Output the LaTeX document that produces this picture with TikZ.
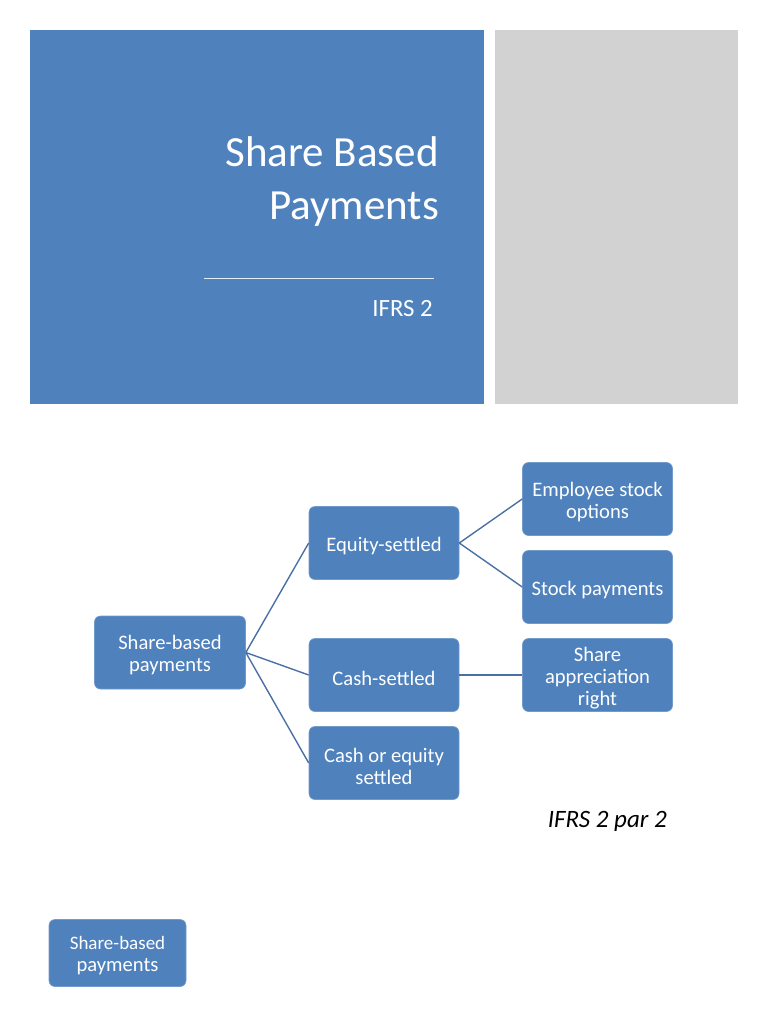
\documentclass[tikz,border=0pt]{standalone}
\usepackage{fontspec}
\setmainfont{Carlito}
\definecolor{sbblue}{HTML}{4F81BD}
\definecolor{sbgray}{HTML}{D2D2D2}
\definecolor{sbline}{HTML}{4A70A6}
\begin{document}
\begin{tikzpicture}[x=1pt,y=-1pt,
  sbtext/.style={text=white,align=center,font=\fontsize{20.6}{22}\selectfont,inner sep=0pt,yshift=-3pt},
  sbbox/.style={fill=sbblue,draw=sbblue!80!white,line width=0.6pt,rounded corners=6pt,minimum width=150pt,minimum height=73pt,
    inner sep=0pt,label={[sbtext]center:#1}},
  sblink/.style={draw=sbline,line width=1.4pt}]
\useasboundingbox (0,0) rectangle (768,1024);
% header panels
\fill[sbblue] (30,30) rectangle (484,404);
\fill[sbgray] (495,30) rectangle (738,404);
\node[anchor=east,align=right,text=white,inner sep=0pt,font=\fontsize{43}{53}\selectfont] (title) at (439,182) {Share Based\\Payments};
\coordinate (rulestart) at (204,278);
\coordinate (ruleend) at (434,278);
\draw[white!85!sbblue,line width=1pt] (rulestart) -- (ruleend);
\node[anchor=east,text=white,inner sep=0pt,font=\fontsize{24.8}{28}\selectfont] (sub) at (433,309) {IFRS 2};
% diagram
\node[sbbox={Share-based\\payments},minimum width=151pt] (root) at (170,652.5) {};
\node[sbbox={Equity-settled}] (eq) at (384,543) {};
\node[sbbox={Cash-settled}] (cash) at (384,675) {};
\node[sbbox={Cash or equity\\settled}] (either) at (384,763) {};
\node[sbbox={Employee stock\\options}] (eso) at (597.5,499) {};
\node[sbbox={Stock payments}] (sp) at (597.5,587) {};
\node[sbbox={Share\\appreciation\\right}] (sar) at (597.5,675) {};
\draw[sblink] (root.east) -- (eq.west);
\draw[sblink] (root.east) -- (cash.west);
\draw[sblink] (root.east) -- (either.west);
\draw[sblink] (eq.east) -- (eso.west);
\draw[sblink] (eq.east) -- (sp.west);
\draw[sblink] (cash.east) -- (sar.west);
\node[anchor=east,inner sep=0pt,font=\fontsize{25}{28}\itshape\selectfont] (ref) at (667,821) {IFRS 2 par 2};
% lower box
\node[sbbox={\fontsize{19}{22}\selectfont Share-based\\payments},minimum width=137pt,minimum height=67pt] (root2) at (117.5,953) {};
\end{tikzpicture}
\end{document}
